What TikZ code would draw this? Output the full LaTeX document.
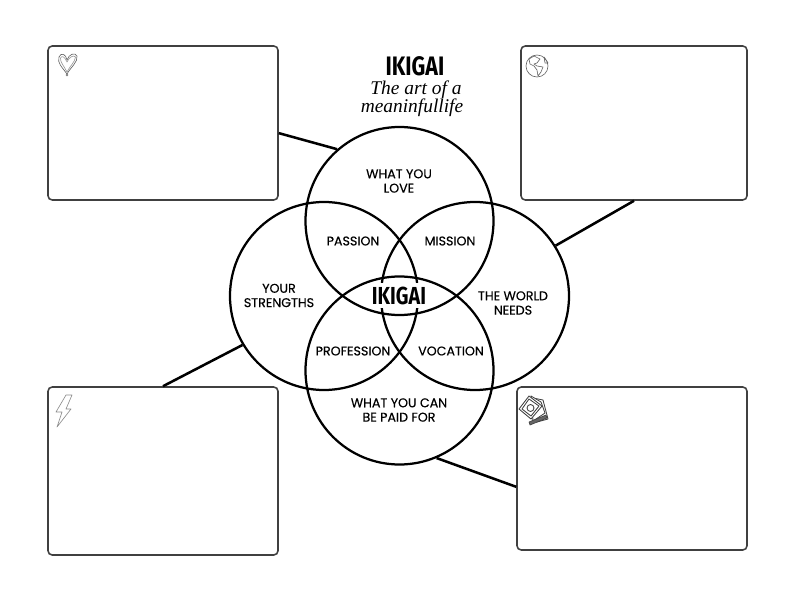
\documentclass[tikz,border=0pt]{standalone}
\usepackage{fontspec}
\setmainfont{Poppins}
\newfontfamily\labelfont{Poppins}[FakeBold=0.3]
\newfontfamily\titlefont{Fira Sans}
\newfontfamily\handfont{Liberation Serif}
\usetikzlibrary{positioning}
\tikzset{
    venn/.style = {draw, circle, line width = 1.6pt, minimum size = 188*0.025cm, inner sep = 0},
    notebox/.style = {draw = black!75, rounded corners = 3pt, line width = 1.1pt, inner sep = 0},
    link/.style = {-, line width = 1.8pt},
    vennlabel/.style = {align = center, font = \labelfont\fontsize{9}{10.2}\selectfont},
    titletext/.style = {font = \titlefont\bfseries\fontsize{#1}{#1}\selectfont, xscale = .8, inner sep = 0},
    handtext/.style = {font = \handfont\itshape\fontsize{13.8}{13.8}\selectfont, inner sep = 0},
    icon/.style = {draw = black!60, line width = .45pt, line join = round}
}

\begin{document}
\begin{tikzpicture}[x = 0.025cm, y = -0.025cm]
    \useasboundingbox (0, 0) rectangle (794, 596);
    \fill[white] (0, 0) rectangle (794, 596);

    % circles
    \node[venn] (love) at (399.5, 221) {};
    \node[venn] (strengths) at (324, 296) {};
    \node[venn] (needs) at (475, 296) {};
    \node[venn] (paid) at (399.5, 370.5) {};

    % boxes
    \node[notebox, minimum width = 230*0.025cm, minimum height = 154*0.025cm] (lovebox) at (163, 123) {};
    \node[notebox, minimum width = 226*0.025cm, minimum height = 154*0.025cm] (needsbox) at (634, 123) {};
    \node[notebox, minimum width = 230*0.025cm, minimum height = 168*0.025cm] (strengthsbox) at (163, 471) {};
    \node[notebox, minimum width = 230*0.025cm, minimum height = 163*0.025cm] (paidbox) at (632, 468.5) {};

    % connectors
    \draw[link] (lovebox.355) -- (love.131);
    \draw[link] (needsbox.south) -- (needs.32);
    \draw[link] (strengthsbox.north) -- (strengths.211);
    \draw[link] (paidbox.189.6) -- (paid.293);

    % title
    \node[titletext = 19] (title) at (415, 66.5) {IKIGAI};
    \node[handtext] (subone) at (416, 90) {The art of a};
    \node[handtext] (subtwo) at (412, 108) {meaninfullife};

    % labels
    \node[vennlabel] (lovetext) at (399, 181) {WHAT YOU\\LOVE};
    \node[vennlabel] (passion) at (353, 241) {PASSION};
    \node[vennlabel] (mission) at (450, 241) {MISSION};
    \node[vennlabel] (strengthstext) at (279, 295.5) {YOUR\\STRENGTHS};
    \node[vennlabel] (needstext) at (513, 303) {THE WORLD\\NEEDS};
    \node[vennlabel] (profession) at (353, 351) {PROFESSION};
    \node[vennlabel] (vocation) at (451, 351) {VOCATION};
    \node[vennlabel] (paidtext) at (399, 410) {WHAT YOU CAN\\BE PAID FOR};
    \node[titletext = 17.5, fill = white, minimum height = 25*0.025cm] (centre) at (399, 296) {IKIGAI};

    % heart
    \draw[icon] (67, 74) .. controls (62, 67) and (57, 63) .. (59, 57) .. controls (61, 52) and (66, 54) .. (67, 60) .. controls (69, 54) and (75, 52) .. (77, 56) .. controls (78, 62) and (71, 67) .. (67, 74);
    \draw[icon, black!40] (67, 72) .. controls (64, 66) and (60, 62) .. (60.5, 58) .. controls (62, 55) and (65, 57) .. (67, 62) .. controls (69, 57) and (74, 54.5) .. (75.5, 57) .. controls (75, 62) and (70, 66) .. (67, 72);
    \fill[black!50] (67, 75) circle (1.3);

    % globe
    \draw[icon] (537, 66) circle (11);
    \draw[icon] (529, 59) -- (534, 56) -- (540, 59) -- (537, 63) -- (534, 64) -- (537, 66) -- (543, 67) -- (541, 72) -- (538, 76) -- (537, 70) -- (534, 66) -- (530, 64) -- cycle;
    \draw[icon] (544, 57) -- (548, 63) -- (545, 63) -- cycle;

    % lightning
    \draw[icon, black!45] (66, 395) -- (72, 395) -- (66, 409) -- (71, 409) -- (57, 427) -- (62, 412) -- (56, 412) -- cycle;

    % money
    \draw[icon, black!75, line width = .6pt] (533, 398) -- (543, 400) -- (548, 419) -- (537, 422) -- cycle;
    \draw[icon, black!75, line width = .6pt, fill = white] (531, 396) -- (541, 402) -- (545, 413) -- (533, 421) -- cycle;
    \draw[icon, black!75, line width = .6pt, fill = white] (529, 396) -- (519, 409) -- (531, 419) -- (542, 406) -- cycle;
    \draw[icon, black!75, line width = .6pt] (529, 399) -- (522, 409) -- (531, 416) -- (539, 406) -- cycle;
    \draw[icon, black!75, line width = .6pt] (530.5, 408) circle (3.5);
    \draw[icon, black!75, fill = black!60] (529, 422) -- (546, 415) -- (547, 418) -- (530, 425) -- cycle;
\end{tikzpicture}
\end{document}
